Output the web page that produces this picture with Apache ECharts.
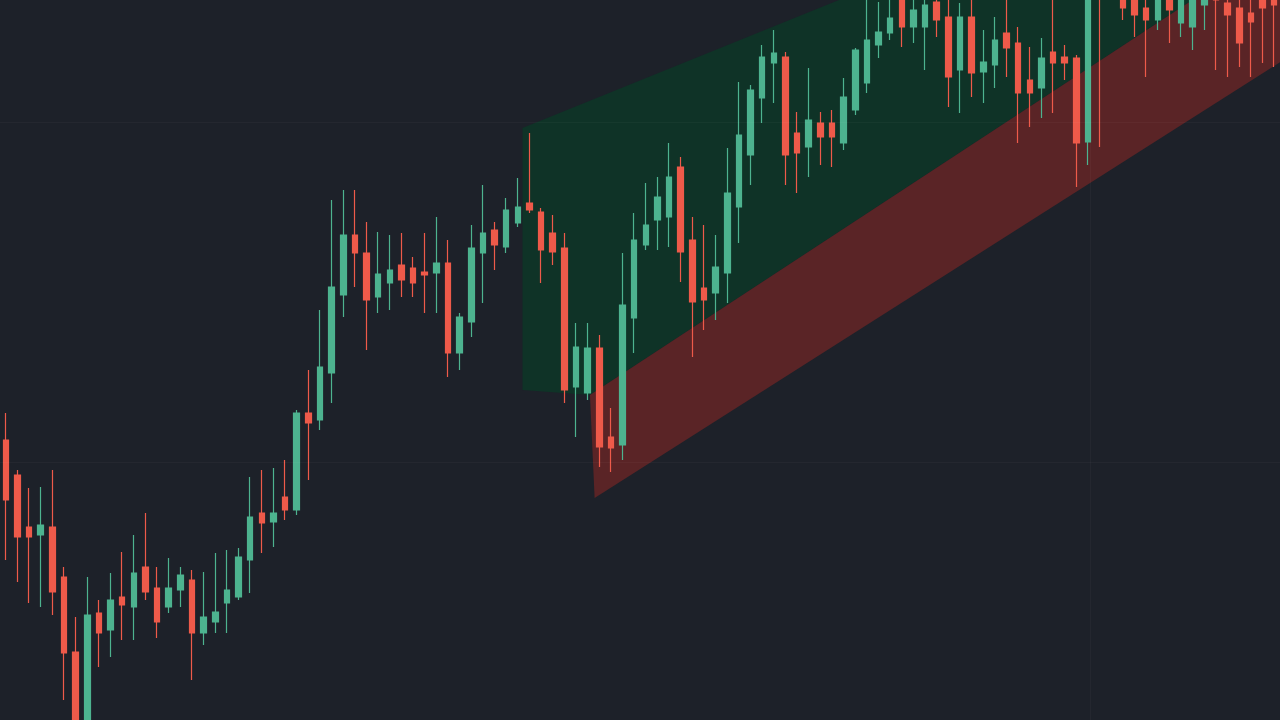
<!DOCTYPE html>
<html>
<head>
<meta charset="utf-8">
<script src="https://cdn.jsdelivr.net/npm/echarts@6/dist/echarts.min.js"></script>
<style>
html,body{margin:0;padding:0;background:#1d2129;}
#chart{width:1280px;height:720px;}
</style>
</head>
<body>
<div id="chart"></div>
<script>
// ---- data (price units) ----
const sessions = Array.from({length: 110}, (_, i) => 'S' + (i + 1));

const opens = [280,245,193,185,193,143,68,-10,107,90,
  123,113,153,132,113,130,140,87,98,117,
  123,160,207,198,223,210,307,300,347,425,
  485,467,423,437,455,452,448,447,457,367,
  398,467,490,473,497,517,508,487,472,333,
  327,372,283,275,402,475,500,503,553,480,
  432,427,447,513,565,622,657,663,587,573,
  597,597,577,610,637,675,687,725,693,693,
  718,703,650,703,648,655,687,677,640,632,
  668,663,662,578,750,735,725,722,712,700,
  723,697,693,715,725,717,712,707,723,725];

const closes = [220,183,183,195,128,67,-5,105,87,120,
  115,147,128,98,132,145,87,103,108,130,
  163,203,197,207,210,307,297,353,433,485,
  467,420,446,450,440,437,445,457,367,403,
  472,487,475,510,513,510,470,468,330,373,
  372,273,272,415,480,495,523,543,468,418,
  420,453,527,585,630,663,667,565,567,600,
  583,583,623,670,680,688,702,693,710,715,
  700,643,703,647,658,680,672,627,627,662,
  657,657,577,730,730,770,712,705,700,725,
  710,725,720,725,720,705,677,698,712,715];

const lows = [160,138,117,113,105,20,-25,-25,53,63,
  80,80,120,82,107,113,40,75,87,87,
  120,127,167,173,200,205,240,290,317,403,
  433,370,407,410,423,423,407,407,343,350,
  383,417,450,467,493,507,437,455,317,283,
  320,253,248,260,367,470,470,473,438,363,
  390,400,417,477,535,597,617,535,527,543,
  555,553,570,605,627,662,680,673,677,650,
  683,613,607,623,617,632,643,577,593,602,
  607,640,533,555,573,725,700,683,643,690,
  677,683,670,690,650,643,653,643,657,653];

const highs = [307,250,232,233,250,153,103,143,120,147,
  168,185,207,153,162,153,150,148,167,170,
  172,243,250,252,260,310,350,410,520,530,
  530,498,488,485,487,463,487,503,480,407,
  495,535,498,522,542,587,512,505,487,397,
  397,385,312,467,507,537,543,577,563,503,
  495,485,572,638,635,675,690,668,608,652,
  608,610,642,672,720,718,730,730,725,730,
  730,720,717,720,690,703,720,693,673,682,
  720,675,665,740,770,780,730,730,725,730,
  730,730,730,730,730,725,725,725,730,730];

// channel lines: [session index, price]
const channelTop = [[44.4, 592], [76.7, 744]];
const channelMid = [[50.2, 325], [110.9, 788]];
const channelLow = [[50.6, 222], [110.9, 668]];
const channelStart = [44.4, 330];

// faint guide levels
const guidePrices = [598, 258];
const guideSessions = [93.2];

// ---- chart ----
const candleData = opens.map((o, i) => [o, closes[i], lows[i], highs[i]]);

const bands = [
  { pts: [channelTop[0], channelTop[1], channelMid[1], channelMid[0], channelStart], color: '#0f3327' },
  { pts: [channelMid[0], channelMid[1], channelLow[1], channelLow[0]], color: '#5a2426' }
];

const chart = echarts.init(document.getElementById('chart'), null, {renderer: 'canvas'});

const markData = guidePrices.map(p => ({yAxis: p})).concat(guideSessions.map(s => ({xAxis: s})));

chart.setOption({
  backgroundColor: '#1d2129',
  animation: false,
  grid: {left: -3, right: -4, top: 0, bottom: 0, containLabel: false},
  xAxis: [
    {type: 'category', data: sessions, boundaryGap: true, show: false},
    {type: 'value', min: -0.5, max: 109.5, show: false}
  ],
  yAxis: {type: 'value', min: 0, max: 720, show: false, splitLine: {show: false}},
  series: [
    {
      type: 'custom',
      xAxisIndex: 1,
      clip: true,
      z: 1,
      silent: true,
      data: [[0, 0], [1, 0]],
      renderItem: function (params, api) {
        const b = bands[params.dataIndex];
        const points = b.pts.map(p => api.coord(p));
        return {type: 'polygon', shape: {points: points}, style: {fill: b.color}};
      },
      markLine: {
        silent: true,
        symbol: 'none',
        label: {show: false},
        lineStyle: {color: 'rgba(255,255,255,0.03)', width: 1, type: 'solid'},
        data: markData
      }
    },
    {
      type: 'candlestick',
      z: 3,
      barWidth: 6,
      data: candleData,
      itemStyle: {
        color: '#4db38f',
        color0: '#ee5a4a',
        borderColor: '#4db38f',
        borderColor0: '#ee5a4a',
        borderWidth: 1.2
      }
    }
  ]
});
</script>
</body>
</html>
